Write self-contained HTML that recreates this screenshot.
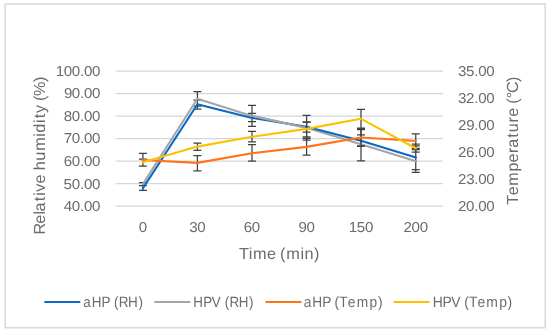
<!DOCTYPE html>
<html lang="en"><head><meta charset="utf-8"><title>Relative humidity and temperature over time</title>
<style>html,body{margin:0;padding:0;background:#fff}svg{display:block}text{font-family:"Liberation Sans", sans-serif;fill:#6c6c6c;text-rendering:geometricPrecision;white-space:pre}</style></head><body>
<svg width="550" height="333" viewBox="0 0 550 333">
<rect width="550" height="333" fill="#fff"/>
<rect x="5.2" y="4.1" width="540.0" height="323.6" fill="#fff" stroke="#d9d9d9" stroke-width="1.5"/>
<path d="M115.6 71.2H443.0M115.6 93.7H443.0M115.6 116.2H443.0M115.6 138.7H443.0M115.6 161.2H443.0M115.6 183.7H443.0M115.6 206.2H443.0" fill="none" stroke="#d6d6d6" stroke-width="1.3"/>
<path d="M142.90 185.60V190.40M138.90 185.60H146.90M138.90 190.40H146.90M142.90 182.50V185.50M138.90 182.50H146.90M138.90 185.50H146.90M197.40 100.00V109.20M193.40 100.00H201.40M193.40 109.20H201.40M197.40 91.50V106.20M193.40 91.50H201.40M193.40 106.20H201.40M252.00 113.30V121.70M248.00 113.30H256.00M248.00 121.70H256.00M252.00 105.40V126.40M248.00 105.40H256.00M248.00 126.40H256.00M306.60 122.20V132.10M302.60 122.20H310.60M302.60 132.10H310.60M306.60 115.40V140.00M302.60 115.40H310.60M302.60 140.00H310.60M361.00 134.90V146.30M357.00 134.90H365.00M357.00 146.30H365.00M361.00 128.20V160.80M357.00 128.20H365.00M357.00 160.80H365.00M415.75 145.90V169.60M411.75 145.90H419.75M411.75 169.60H419.75M415.75 149.50V172.30M411.75 149.50H419.75M411.75 172.30H419.75" fill="none" stroke="#404040" stroke-width="1.25"/>
<polyline points="142.90,184.00 197.40,98.80 252.00,115.90 306.60,127.80 361.00,144.30 415.75,161.15" fill="none" stroke="#a5a5a5" stroke-width="2.1" stroke-linejoin="round" stroke-linecap="square"/>
<polyline points="142.90,188.20 197.40,104.20 252.00,117.90 306.60,126.70 361.00,140.70 415.75,157.50" fill="none" stroke="#0869c8" stroke-width="2.1" stroke-linejoin="round" stroke-linecap="square"/>
<line x1="254.18" y1="116.38" x2="304.96" y2="127.44" stroke="#a5a5a5" stroke-width="2.1"/>
<path d="M142.90 153.40V166.20M138.90 153.40H146.90M138.90 166.20H146.90M142.90 159.20V166.20M138.90 159.20H146.90M138.90 166.20H146.90M197.40 155.50V170.80M193.40 155.50H201.40M193.40 170.80H201.40M197.40 143.20V150.25M193.40 143.20H201.40M193.40 150.25H201.40M252.00 144.70V161.00M248.00 144.70H256.00M248.00 161.00H256.00M252.00 131.40V141.90M248.00 131.40H256.00M248.00 141.90H256.00M306.60 138.30V155.00M302.60 138.30H310.60M302.60 155.00H310.60M306.60 122.20V136.80M302.60 122.20H310.60M302.60 136.80H310.60M361.00 128.60V145.85M357.00 128.60H365.00M357.00 145.85H365.00M361.00 109.30V129.50M357.00 109.30H365.00M357.00 129.50H365.00M415.75 133.85V148.30M411.75 133.85H419.75M411.75 148.30H419.75M415.75 144.00V152.20M411.75 144.00H419.75M411.75 152.20H419.75" fill="none" stroke="#404040" stroke-width="1.25"/>
<polyline points="142.90,160.00 197.40,162.90 252.00,153.20 306.60,146.90 361.00,137.45 415.75,140.90" fill="none" stroke="#ff7319" stroke-width="2.1" stroke-linejoin="round" stroke-linecap="square"/>
<polyline points="142.90,162.20 197.40,146.60 252.00,136.75 306.60,128.90 361.00,118.80 415.75,148.25" fill="none" stroke="#ffc000" stroke-width="2.1" stroke-linejoin="round" stroke-linecap="square"/>
<text transform="scale(1.05,1)" x="53.05 60.65 68.38 76.16 79.95 87.67" y="76.00" font-size="14.4">100.00</text>
<text transform="scale(1.05,1)" x="60.89 68.38 76.16 79.95 87.67" y="98.00" font-size="14.4">90.00</text>
<text transform="scale(1.05,1)" x="60.65 68.38 76.16 79.95 87.67" y="120.70" font-size="14.4">80.00</text>
<text transform="scale(1.05,1)" x="60.77 68.38 76.16 79.95 87.67" y="143.00" font-size="14.4">70.00</text>
<text transform="scale(1.05,1)" x="60.68 68.38 76.16 79.95 87.67" y="165.90" font-size="14.4">60.00</text>
<text transform="scale(1.05,1)" x="60.56 68.38 76.16 79.95 87.67" y="188.50" font-size="14.4">50.00</text>
<text transform="scale(1.05,1)" x="60.70 68.38 76.16 79.95 87.67" y="211.00" font-size="14.4">40.00</text>
<text transform="scale(1.05,1)" x="436.21 443.74 451.61 455.40 463.12" y="75.90" font-size="14.4">35.00</text>
<text transform="scale(1.05,1)" x="436.21 443.84 451.61 455.40 463.12" y="102.60" font-size="14.4">32.00</text>
<text transform="scale(1.05,1)" x="436.14 444.08 451.63 455.42 463.14" y="130.20" font-size="14.4">29.00</text>
<text transform="scale(1.05,1)" x="436.14 443.88 451.63 455.42 463.14" y="156.80" font-size="14.4">26.00</text>
<text transform="scale(1.05,1)" x="436.14 443.95 451.63 455.42 463.14" y="184.20" font-size="14.4">23.00</text>
<text transform="scale(1.05,1)" x="436.14 443.85 451.63 455.42 463.14" y="211.00" font-size="14.4">20.00</text>
<text transform="scale(1.05,1)" x="132.09" y="231.80" font-size="14.4">0</text>
<text transform="scale(1.05,1)" x="180.24 187.86" y="231.80" font-size="14.4">30</text>
<text transform="scale(1.05,1)" x="232.16 239.86" y="231.80" font-size="14.4">60</text>
<text transform="scale(1.05,1)" x="284.36 291.86" y="231.80" font-size="14.4">90</text>
<text transform="scale(1.05,1)" x="332.20 339.72 347.53" y="231.80" font-size="14.4">150</text>
<text transform="scale(1.05,1)" x="384.24 391.95 399.67" y="231.80" font-size="14.4">200</text>
<text transform="scale(1.017,1)" x="235.03 244.52 248.86 262.59 271.46 275.28 281.40 295.39 299.50 308.86" y="259.00" font-size="16.04">Time (min)</text>
<text transform="translate(44.70,0) rotate(-90) scale(1.012,1)" x="-231.63 -221.19 -212.02 -208.88 -198.90 -193.34 -189.46 -181.39 -172.49 -168.15 -158.84 -149.08 -135.05 -131.09 -121.53 -116.98 -111.66 -103.58 -99.72 -94.83 -81.00" y="0" font-size="16.04">Relative humidity (%)</text>
<text transform="translate(517.80,0) rotate(-90) scale(1.006,1)" x="-203.50 -194.20 -184.72 -170.56 -161.47 -152.10 -146.98 -136.99 -131.47 -121.78 -115.94 -107.04 -103.16 -97.69 -92.42 -81.56" y="0" font-size="16.0">Temperature (°C)</text>
<text transform="scale(0.9,1)" x="92.52 101.84 112.82 122.38 126.58 131.86 142.26 153.84" y="306.60" font-size="14.96">aHP (RH)</text>
<text transform="scale(0.9,1)" x="214.82 225.72 235.41 245.51 249.68 254.93 265.25 276.76" y="306.60" font-size="14.86">HPV (RH)</text>
<text transform="scale(0.918,1)" x="331.03 340.16 350.92 360.40 364.46 369.68 378.92 388.51 402.50 411.68" y="306.60" font-size="14.96">aHP (Temp)</text>
<text transform="scale(0.934,1)" x="463.22 473.80 483.19 493.16 497.10 502.19 511.27 520.65 534.41 543.46" y="306.60" font-size="14.94">HPV (Temp)</text>
<line x1="45.1" y1="302.0" x2="79.5" y2="302.0" stroke="#0869c8" stroke-width="2.1" stroke-linecap="round"/>
<line x1="155.1" y1="302.0" x2="189.5" y2="302.0" stroke="#a5a5a5" stroke-width="2.1" stroke-linecap="round"/>
<line x1="266.3" y1="302.0" x2="300.7" y2="302.0" stroke="#ff7319" stroke-width="2.1" stroke-linecap="round"/>
<line x1="394.3" y1="302.0" x2="428.7" y2="302.0" stroke="#ffc000" stroke-width="2.1" stroke-linecap="round"/>
</svg></body></html>
